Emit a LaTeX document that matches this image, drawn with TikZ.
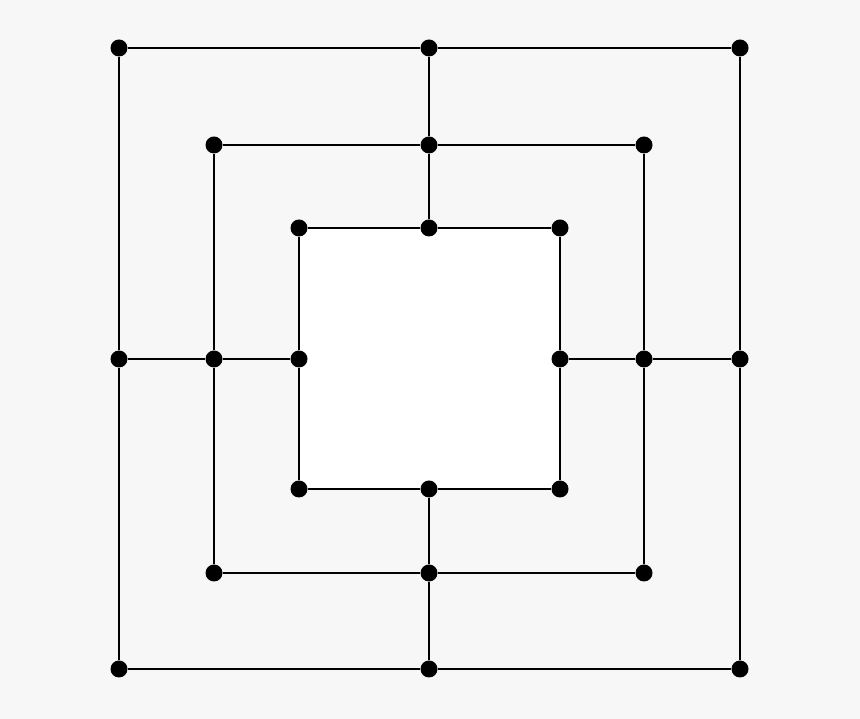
\documentclass[tikz,border=0pt]{standalone}
\usepackage{tikz}
\usetikzlibrary{backgrounds}
\definecolor{boardgray}{HTML}{F7F7F7}

\begin{document}
\begin{tikzpicture}[
    peg/.style={circle, fill=black, inner sep=0pt, minimum size=0.17cm},
    track/.style={line width=0.75pt}
]
    \useasboundingbox (0,0) rectangle (8.6,7.19);

    % Points of the board: square name / left / right / bottom / top
    \foreach \s/\l/\r/\b/\t in {o/1.19/7.40/0.50/6.71, m/2.14/6.44/1.46/5.74, i/2.99/5.60/2.30/4.91} {
        \node[peg] (\s-TL) at (\l, \t) {};
        \node[peg] (\s-T)  at (4.29, \t) {};
        \node[peg] (\s-TR) at (\r, \t) {};
        \node[peg] (\s-R)  at (\r, 3.60) {};
        \node[peg] (\s-BR) at (\r, \b) {};
        \node[peg] (\s-B)  at (4.29, \b) {};
        \node[peg] (\s-BL) at (\l, \b) {};
        \node[peg] (\s-L)  at (\l, 3.60) {};
    }

    % Squares
    \foreach \s in {o, m, i} {
        \draw[track] (\s-TL) -- (\s-T) -- (\s-TR) -- (\s-R) -- (\s-BR)
            -- (\s-B) -- (\s-BL) -- (\s-L) -- (\s-TL);
    }

    % Cross lines
    \foreach \d in {T, R, B, L} {
        \draw[track] (o-\d) -- (m-\d) -- (i-\d);
    }

    \begin{scope}[on background layer]
        \fill[boardgray] (0,0) rectangle (8.6,7.19);
        \fill[white] (i-TL.center) -- (i-TR.center) -- (i-BR.center) -- (i-BL.center) -- cycle;
    \end{scope}
\end{tikzpicture}
\end{document}
